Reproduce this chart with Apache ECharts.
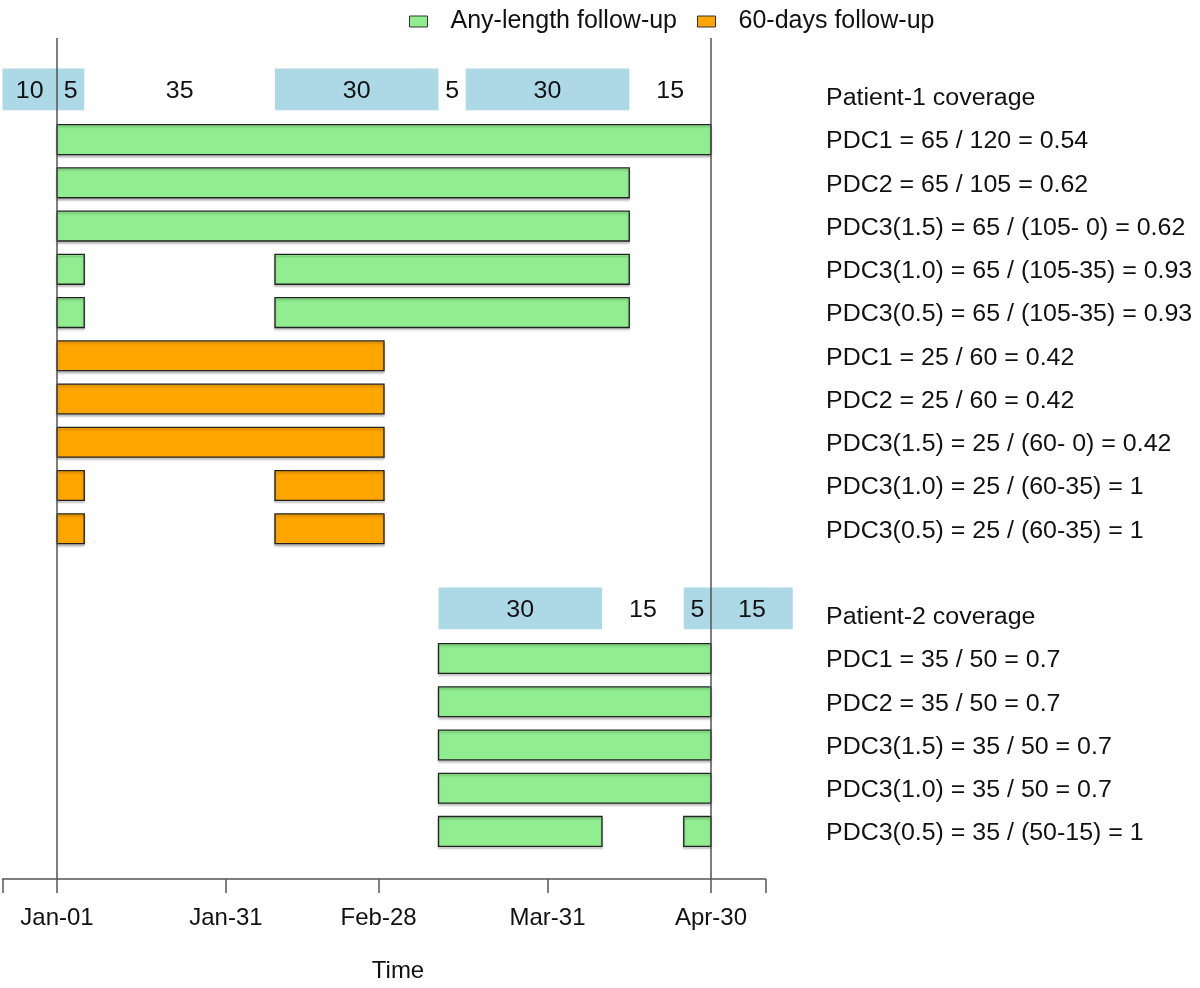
<!DOCTYPE html>
<html><head><meta charset="utf-8">
<script src="https://cdn.jsdelivr.net/npm/echarts@6/dist/echarts.min.js"></script>
<style>html,body{margin:0;padding:0;background:#fff}#c{width:1200px;height:988px}</style>
</head><body><div id="c"></div>
<script>
// ---------- data ----------
const tickDays = [-10, 0, 31, 59, 90, 120, 130];
const labelDays = [0, 31, 59, 90, 120];
const tickLabels = ['Jan-01', 'Jan-31', 'Feb-28', 'Mar-31', 'Apr-30'];
const seriesNames = ['Any-length follow-up', '60-days follow-up'];
const followUpBounds = [0, 120];

// supply / gap intervals (days) shown in light blue row
const p1Start = -10;
const p1Durations = [10, 5, 35, 30, 5, 30, 15];
const p1Supplied = [1, 1, 0, 1, 0, 1, 0];
const p2Start = 70;
const p2Durations = [30, 15, 5, 15];
const p2Supplied = [1, 0, 1, 1];

// coverage bars: per row, list of [start, end] in days
const p1AnyLength = [[[0, 120]], [[0, 105]], [[0, 105]], [[0, 5], [40, 105]], [[0, 5], [40, 105]]];
const p1SixtyDays = [[[0, 60]], [[0, 60]], [[0, 60]], [[0, 5], [40, 60]], [[0, 5], [40, 60]]];
const p2AnyLength = [[[70, 120]], [[70, 120]], [[70, 120]], [[70, 120]], [[70, 100], [115, 120]]];

const p1Texts = [
  'Patient-1 coverage',
  'PDC1 = 65 / 120 = 0.54',
  'PDC2 = 65 / 105 = 0.62',
  'PDC3(1.5) = 65 / (105- 0) = 0.62',
  'PDC3(1.0) = 65 / (105-35) = 0.93',
  'PDC3(0.5) = 65 / (105-35) = 0.93',
  'PDC1 = 25 / 60 = 0.42',
  'PDC2 = 25 / 60 = 0.42',
  'PDC3(1.5) = 25 / (60- 0) = 0.42',
  'PDC3(1.0) = 25 / (60-35) = 1',
  'PDC3(0.5) = 25 / (60-35) = 1'
];
const p2Texts = [
  'Patient-2 coverage',
  'PDC1 = 35 / 50 = 0.7',
  'PDC2 = 35 / 50 = 0.7',
  'PDC3(1.5) = 35 / 50 = 0.7',
  'PDC3(1.0) = 35 / 50 = 0.7',
  'PDC3(0.5) = 35 / (50-15) = 1'
];

// ---------- layout ----------
const ROW_P1 = 0, ROW_P2 = 12;
const BLUE_OFF = -1.16, BAR_H = 0.69, BLUE_H = 0.967;
const FONT = "'Liberation Sans', Arial, Helvetica, sans-serif";
const GREEN = '#90EE90', ORANGE = '#FFA500', BLUE = '#ADD8E6';
const TEXT_SCALE_X = 1.085;

function segs(start, durs, sup, row) {
  const out = []; let s = start;
  durs.forEach((d, i) => { out.push([s, s + d, row, d, sup[i]]); s += d; });
  return out;
}
const blueData = segs(p1Start, p1Durations, p1Supplied, ROW_P1 + BLUE_OFF)
  .concat(segs(p2Start, p2Durations, p2Supplied, ROW_P2 + BLUE_OFF));

function bars(rows, base) {
  const out = [];
  rows.forEach((r, i) => r.forEach(iv => out.push([iv[0], iv[1], base + i])));
  return out;
}
const greenData = bars(p1AnyLength, ROW_P1).concat(bars(p2AnyLength, ROW_P2));
const orangeData = bars(p1SixtyDays, ROW_P1 + p1AnyLength.length);

const textData = [];
p1Texts.forEach((t, k) => textData.push({ value: [0, ROW_P1 - 1 + k], name: t }));
p2Texts.forEach((t, k) => textData.push({ value: [0, ROW_P2 - 1 + k], name: t }));

function barRender(params, api) {
  const s = api.coord([api.value(0), api.value(2)]);
  const e = api.coord([api.value(1), api.value(2)]);
  const h = api.size([0, BAR_H])[1];
  return {
    type: 'rect',
    shape: { x: s[0], y: s[1] - h / 2, width: e[0] - s[0], height: h },
    style: {
      fill: api.visual('color'), stroke: '#222', lineWidth: 1.3,
      shadowColor: 'rgba(0,0,0,0.22)', shadowOffsetY: 2, shadowBlur: 2
    }
  };
}

function blueRender(params, api) {
  const s = api.coord([api.value(0), api.value(2)]);
  const e = api.coord([api.value(1), api.value(2)]);
  const h = api.size([0, BLUE_H])[1];
  const children = [];
  if (api.value(4)) {
    children.push({ type: 'rect', shape: { x: s[0], y: s[1] - h / 2, width: e[0] - s[0], height: h },
      style: { fill: BLUE } });
  }
  children.push({ type: 'text', x: (s[0] + e[0]) / 2, y: s[1] + 2, scaleX: TEXT_SCALE_X,
    style: { text: String(api.value(3)), fontSize: 23, fontFamily: FONT, fill: '#111',
      align: 'center', verticalAlign: 'middle' } });
  return { type: 'group', children };
}

function textRender(params, api) {
  const cs = params.coordSys;
  const y = api.coord([0, api.value(1)])[1];
  return { type: 'text', x: cs.x + cs.width + 60.5, y: y + 2.5, scaleX: TEXT_SCALE_X,
    style: { text: textData[params.dataIndex].name, fontSize: 23, fontFamily: FONT, fill: '#111',
      align: 'left', verticalAlign: 'middle' } };
}

const chart = echarts.init(document.getElementById('c'));
chart.setOption({
  animation: false,
  backgroundColor: '#fff',
  legend: {
    left: 404, top: 4, itemWidth: 18, itemHeight: 11, itemGap: 20,
    data: seriesNames.map(n => ({ name: n, icon: 'rect' })),
    itemStyle: { borderColor: '#333', borderWidth: 1 },
    textStyle: { fontSize: 25, fontFamily: FONT, color: '#111', padding: [0, 0, 0, 18] },
    selectedMode: false
  },
  grid: { left: 2.5, right: 434.5, top: 38, bottom: 105, containLabel: false },
  xAxis: {
    type: 'value', min: tickDays[0], max: tickDays[tickDays.length - 1],
    axisLine: { show: true, onZero: false, lineStyle: { color: '#555', width: 1.5 } },
    axisTick: { show: true, length: 14, lineStyle: { color: '#555', width: 1.5 }, customValues: tickDays },
    axisLabel: { customValues: labelDays, margin: 27, fontSize: 24, fontFamily: FONT, color: '#111',
      formatter: v => tickLabels[labelDays.indexOf(v)] || '' },
    splitLine: { show: false },
    name: 'Time', nameLocation: 'middle', nameGap: 80,
    nameTextStyle: { fontSize: 24, fontFamily: FONT, color: '#111', padding: [0, 0, 0, 28] }
  },
  yAxis: { type: 'value', inverse: true, min: -2.35, max: 17.1, show: false },
  series: [
    { type: 'custom', name: 'supply', renderItem: blueRender, data: blueData, clip: false, z: 1,
      encode: { x: [0, 1], y: 2 }, silent: true },
    { type: 'custom', name: seriesNames[0], renderItem: barRender, data: greenData, clip: false, z: 2,
      itemStyle: { color: GREEN }, encode: { x: [0, 1], y: 2 } },
    { type: 'custom', name: seriesNames[1], renderItem: barRender, data: orangeData, clip: false, z: 2,
      itemStyle: { color: ORANGE }, encode: { x: [0, 1], y: 2 } },
    { type: 'custom', name: 'texts', renderItem: textRender, data: textData, clip: false, z: 3,
      encode: { x: 0, y: 1 }, silent: true },
    { type: 'line', name: 'bounds', data: [], z: 5,
      markLine: { silent: true, symbol: ['none', 'none'], label: { show: false },
        lineStyle: { color: '#555', width: 1.5, type: 'solid' },
        data: followUpBounds.map(v => ({ xAxis: v })) } }
  ]
});
</script></body></html>
